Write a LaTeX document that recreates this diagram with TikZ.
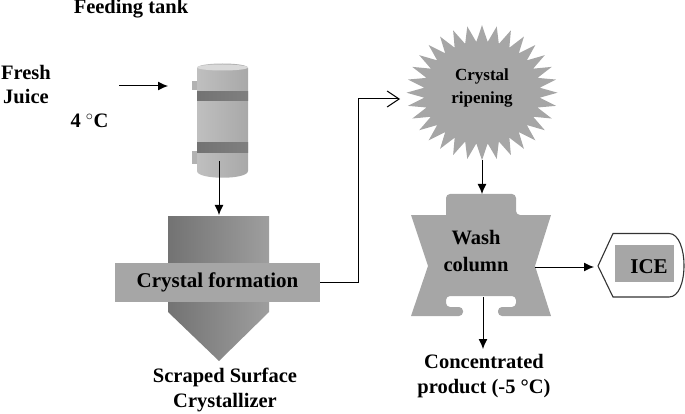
\documentclass[tikz,border=0pt]{standalone}
\usepackage{fontspec}
\setmainfont{Liberation Serif}
\usetikzlibrary{arrows.meta,calc}
\definecolor{panel}{HTML}{A6A6A6}
\tikzset{
  x=1pt,y=-1pt,
  lab/.style={font=\bfseries\fontsize{#1}{#1}\selectfont,inner sep=0pt,align=center},
  lab/.default=17,
  conn/.style={line width=1pt,black,-{Latex[length=10pt,width=9pt]}},
  ghost/.style={inner sep=0pt,minimum width=#1},
  grayfill/.style={fill=panel,draw=none},
}
\begin{document}
\begin{tikzpicture}
\useasboundingbox (0,0) rectangle (685,414);
% tank
\fill[black!30] (192,81) rectangle (198,90);
\fill[black!30] (192,151) rectangle (198,164);
\path[left color=black!25,middle color=black!10,right color=black!34]
  (197,68) -- (197,171) .. controls (197,180) and (248,180) .. (248,171) -- (248,68) .. controls (248,62) and (197,62) .. (197,68) -- cycle;
\fill[black!15] (222.5,67.5) ellipse[x radius=25.5,y radius=3];
\path[left color=black!55,middle color=black!25,right color=black!50] (197,92) rectangle (248,100.5);
\path[left color=black!55,middle color=black!25,right color=black!50] (197,143) rectangle (248,153);
\node[ghost=51pt,minimum height=113pt] (tank) at (222.5,121.5) {};
% crystallizer
\path[left color=black!55,right color=black!38] (168,216) -- (269,216) -- (269,312) -- (219,361) -- (168,312) -- cycle;
\node[grayfill,lab=21,minimum width=205pt,minimum height=39pt] (band) at (217.5,282.5) {Crystal formation};
\coordinate (crystop) at (219,215);
% star
\fill[panel] plot[samples at={0,...,63}] ({482+(66.75+8.75*cos(180*\x))*cos(\x*5.625)},{92.7+(59.25+8.25*cos(180*\x))*sin(\x*5.625)}) -- cycle;
\node[lab=17] (star) at (482,88) {Crystal\\[6pt]ripening};
\coordinate (starin) at (400,99);
\coordinate (starout) at (482,160);
% wash column
\fill[panel,rounded corners=0pt]
  (446,215) [rounded corners=4pt] -- (446,194) -- (516,194) -- (516,215) [rounded corners=0pt] -- (551,215) -- (535,266) -- (551,316)
  [rounded corners=4pt] -- (498,316) -- (498,307) -- (516,307) -- (516,296) -- (446,296) -- (446,307) -- (463,307) -- (463,316) [rounded corners=0pt] -- (411,316) -- (428,266) -- (411,215) -- cycle;
\node[lab=20.5] (wash) at (476,251) {Wash\\[7pt]column};
\coordinate (washtop) at (482,194);
\coordinate (washright) at (535,267);
\coordinate (washbottom) at (483,297);
% ICE
\draw[line width=1.1pt,black!80,fill=white] (598,266) -- (613,233.5) -- (669,233.5) .. controls (679,233.5) and (684,250) .. (684,265) .. controls (684,282) and (679,297) .. (669,297) -- (613,297) -- cycle;
\fill[panel] (614.5,245) rectangle (674,282);
\node[lab=21] (ice) at (649,267) {ICE};
\coordinate (iceleft) at (594,267);
% labels
\node[lab=20.5] (feed) at (131,9) {Feeding tank};
\node[lab=20.5] (fresh) at (26,84.5) {Fresh\\[4pt]Juice};
\node[lab=20.5] (temp) at (89.5,121) {4 $^{\circ}$C};
\node[lab=20.5] (scraped) at (225,390) {Scraped Surface\\[4pt]Crystallizer};
\node[lab=20.5] (conc) at (484,376) {Concentrated\\[4pt]product (-5 °C)};
\coordinate (juicefrom) at (119,86);
\coordinate (juiceto) at (168,86);
\coordinate (tankout) at (219,161);
\coordinate (concto) at (483,349);
% connectors
\draw[conn] (juicefrom) -- (juiceto);
\draw[conn] (tankout) -- (crystop);
\draw[line width=1pt,-{Straight Barb[length=12pt,width=16pt]}] (band.east) -- (358,282.5) -- (358,99) -- (starin);
\draw[conn] (starout) -- (washtop);
\draw[conn] (washbottom) -- (concto);
\draw[conn] (washright) -- (iceleft);
\end{tikzpicture}
\end{document}
